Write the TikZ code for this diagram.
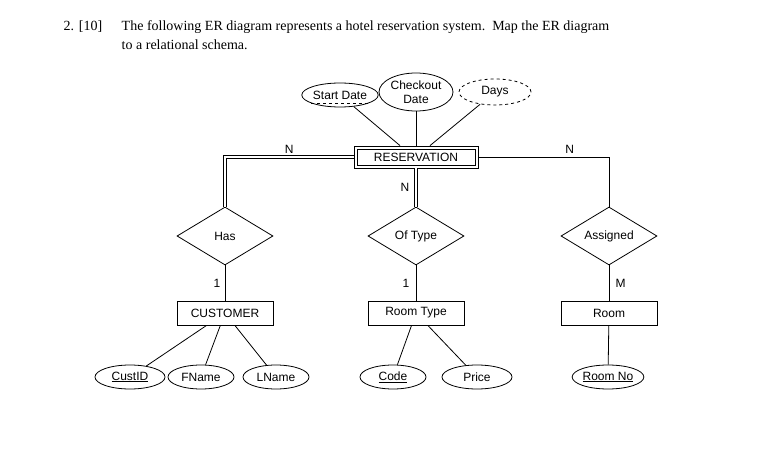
\documentclass[tikz,border=0pt]{standalone}
\usepackage{fontspec}
\setmainfont{Liberation Serif}
\newfontfamily\diagfont{Liberation Sans}
\usetikzlibrary{shapes.geometric}

\begin{document}
\begin{tikzpicture}[
    x=1pt, y=1pt, line width=0.8pt,
    every node/.style={font=\diagfont\fontsize{12}{13}\selectfont},
    entity/.style={rectangle, draw, minimum width=96pt, minimum height=24pt, inner sep=1pt},
    weakentity/.style={rectangle, draw, minimum width=124pt, minimum height=22pt, inner sep=1pt},
    relation/.style={diamond, draw, minimum width=96pt, minimum height=58pt, aspect=1.65, inner sep=0pt},
    attr/.style={ellipse, draw, minimum height=24pt, inner sep=0pt},
    derived/.style={attr, dashed},
    link/.style={draw},
    identlink/.style={draw, double, line width=0.8pt, double distance=1.8pt}
]
    \useasboundingbox (0,0) rectangle (769,-468);

    % question text
    \node[anchor=west, font=\fontsize{14}{16}\selectfont] (qnum) at (60,-27) {2. [10]};
    \node[anchor=north west, align=left, font=\fontsize{14}{19}\selectfont] (qtext) at (118,-17)
        {The following ER diagram represents a hotel reservation system.\ \ Map the ER diagram\\to a relational schema.};

    % entities and relationships
    \node[weakentity] (reservation) at (416,-157) {};
    \node[weakentity, minimum width=118pt, minimum height=16pt] (resinner) at (416,-157) {RESERVATION};
    \node[relation] (has) at (225,-236) {Has};
    \node[relation] (oftype) at (416,-236) {Of Type};
    \node[relation] (assigned) at (609,-236) {Assigned};
    \node[entity] (customer) at (225,-313) {CUSTOMER};
    \node[entity] (roomtype) at (416,-313) {Room Type};
    \node[entity] (room) at (609,-313) {Room};

    % attributes
    \node[attr, minimum width=68pt] (startdate) at (340,-95) {Start Date};
    \node[attr, minimum width=74pt, minimum height=38pt, align=center] (checkout) at (416,-92) {Checkout\\[1pt]Date};
    \node[derived, minimum width=72pt, minimum height=26pt] (days) at (495,-92) {Days};
    \node[attr, minimum width=70pt] (custid) at (130,-377) {\underline{CustID}};
    \node[attr, minimum width=66pt] (fname) at (201,-377) {FName};
    \node[attr, minimum width=66pt] (lname) at (276,-377) {LName};
    \node[attr, minimum width=66pt] (code) at (393,-377) {\underline{Code}};
    \node[attr, minimum width=70pt] (price) at (477,-377) {Price};
    \node[attr, minimum width=68pt] (roomno) at (608,-377) {\underline{Room No}};
    \draw[dashed] (311,-103) -- (369,-103);

    \draw[link] (startdate) -- (reservation.north -| 400,0);
    \draw[link] (checkout) -- (reservation.north);
    \draw[link] (days) -- (reservation.north -| 430,0);

    % connectors
    \draw[identlink] (reservation.west) -| (has.north) node[pos=0.25, above] {N};
    \draw[identlink] (reservation.south) -- (oftype.north) node[midway, left=3pt] {N};
    \draw[link] (reservation.east) -| (assigned.north) node[pos=0.35, above] {N};
    \draw[link] (has) -- (customer) node[midway, left=1pt] {1};
    \draw[link] (oftype) -- (roomtype) node[midway, left=3pt] {1};
    \draw[link] (assigned) -- (room) node[midway, right=3pt] {M};

    \draw[link] (customer) -- (custid);
    \draw[link] (customer) -- (fname);
    \draw[link] (customer) -- (lname);
    \draw[link] (roomtype) -- (code);
    \draw[link] (roomtype) -- (price);
    \draw[link] (room) -- (roomno);
\end{tikzpicture}
\end{document}
